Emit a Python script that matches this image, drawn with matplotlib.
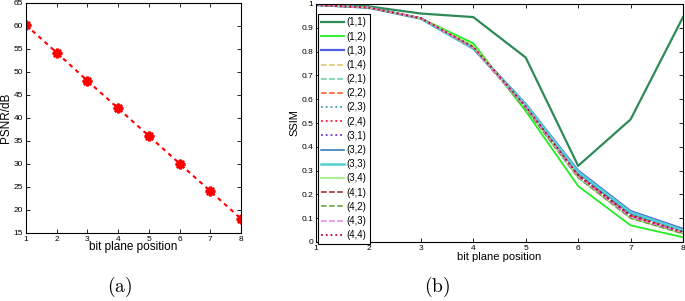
import numpy as np
import matplotlib
matplotlib.use('Agg')
import matplotlib.pyplot as plt

plt.rcParams['font.family'] = ['Liberation Sans', 'DejaVu Sans']
plt.rcParams['mathtext.fontset'] = 'cm'

bit_pos = [1, 2, 3, 4, 5, 6, 7, 8]
psnr = [60.2, 54.2, 48.1, 42.1, 36.1, 30.1, 24.1, 18.1]

labels = ['(1,1)', '(1,2)', '(1,3)', '(1,4)', '(2,1)', '(2,2)', '(2,3)', '(2,4)',
          '(3,1)', '(3,2)', '(3,3)', '(3,4)', '(4,1)', '(4,2)', '(4,3)', '(4,4)']
ssim = [
    [1.00, 0.99, 0.96, 0.945, 0.775, 0.32, 0.515, 0.945],
    [0.998, 0.985, 0.94, 0.835, 0.55, 0.235, 0.07, 0.02],
    [0.996, 0.985, 0.94, 0.815, 0.58, 0.30, 0.13, 0.055],
    [0.996, 0.985, 0.94, 0.82, 0.565, 0.28, 0.11, 0.042],
    [0.996, 0.985, 0.94, 0.815, 0.57, 0.285, 0.115, 0.045],
    [0.996, 0.985, 0.94, 0.82, 0.57, 0.28, 0.11, 0.04],
    [0.996, 0.985, 0.938, 0.815, 0.575, 0.29, 0.12, 0.048],
    [0.996, 0.985, 0.94, 0.82, 0.57, 0.285, 0.115, 0.045],
    [0.996, 0.985, 0.94, 0.815, 0.57, 0.28, 0.11, 0.04],
    [0.996, 0.985, 0.94, 0.815, 0.575, 0.29, 0.12, 0.05],
    [0.996, 0.985, 0.938, 0.812, 0.578, 0.295, 0.125, 0.05],
    [0.996, 0.985, 0.94, 0.825, 0.56, 0.27, 0.10, 0.035],
    [0.996, 0.985, 0.94, 0.815, 0.565, 0.275, 0.105, 0.038],
    [0.996, 0.985, 0.94, 0.815, 0.56, 0.27, 0.10, 0.035],
    [0.996, 0.985, 0.94, 0.815, 0.565, 0.275, 0.105, 0.04],
    [0.996, 0.985, 0.94, 0.82, 0.57, 0.28, 0.11, 0.042],
]
colors = ['#2e8b57', '#22ee22', '#5060e0', '#e0c060', '#60d0a0', '#ff5010',
          '#40a0b0', '#ff1040', '#7030d0', '#1f77b4', '#50d0d0', '#90ee70',
          '#a02020', '#60a030', '#ee80ee', '#c00030']
styles = ['-', '-', '-', '--', '--', '--', ':', ':', ':', '-', '-', '-',
          '--', '--', '--', ':']
widths = [1.6, 1.3, 1.6, 1.1, 1.1, 1.1, 1.3, 1.3, 1.3, 1.1, 1.8, 1.1,
          1.1, 1.1, 1.1, 1.3]

fig = plt.figure(figsize=(6.85, 3.01), dpi=100)

ax1 = fig.add_axes([26/685, 1 - 233/301, 215/685, 230/301])
ax1.plot(bit_pos, psnr, color='red', linestyle='--', linewidth=1.5, dashes=(2, 2),
         marker=(8, 2, 0), markersize=7, markeredgewidth=1.8)
ax1.set_xlim(1, 8)
ax1.set_ylim(15, 65)
ax1.set_yticks(range(15, 66, 5))
ax1.set_xticks(bit_pos)
ax1.set_ylabel('PSNR/dB', fontsize=8.5, labelpad=1)
ax1.set_xlabel('bit plane position', fontsize=8.5, labelpad=-1)

ax2 = fig.add_axes([316/685, 1 - 242/301, 367/685, 238/301])
for i in range(len(labels)):
    ax2.plot(bit_pos, ssim[i], color=colors[i], linestyle=styles[i],
             linewidth=widths[i], label=labels[i])
ax2.set_xlim(1, 8)
ax2.set_ylim(0, 1)
ax2.set_yticks(np.arange(0, 1.01, 0.1))
ax2.set_yticklabels(['0', '0.1', '0.2', '0.3', '0.4', '0.5', '0.6', '0.7',
                     '0.8', '0.9', '1'])
ax2.set_xticks(bit_pos)
ax2.set_ylabel('SSIM', fontsize=8, labelpad=1)
ax2.set_xlabel('bit plane position', fontsize=8, labelpad=0.5)
leg = ax2.legend(loc='upper left', bbox_to_anchor=(0.005, 0.958), fontsize=7,
                 handlelength=2.3, handletextpad=0.3, labelspacing=0.43,
                 borderpad=0.35, borderaxespad=0, fancybox=False,
                 framealpha=1, edgecolor='black')
leg.get_frame().set_linewidth(0.8)

for ax in (ax1, ax2):
    ax.tick_params(direction='in', top=True, right=True, labelsize=6,
                   length=3, width=0.6, pad=2)
    for s in ax.spines.values():
        s.set_linewidth(0.8)

fig.text(120/685, 1 - 287/301, r'$\mathrm{(a)}$', fontsize=14, ha='center', va='center')
fig.text(437/685, 1 - 287/301, r'$\mathrm{(b)}$', fontsize=14, ha='center', va='center')

fig.savefig('out.png', dpi=100)
